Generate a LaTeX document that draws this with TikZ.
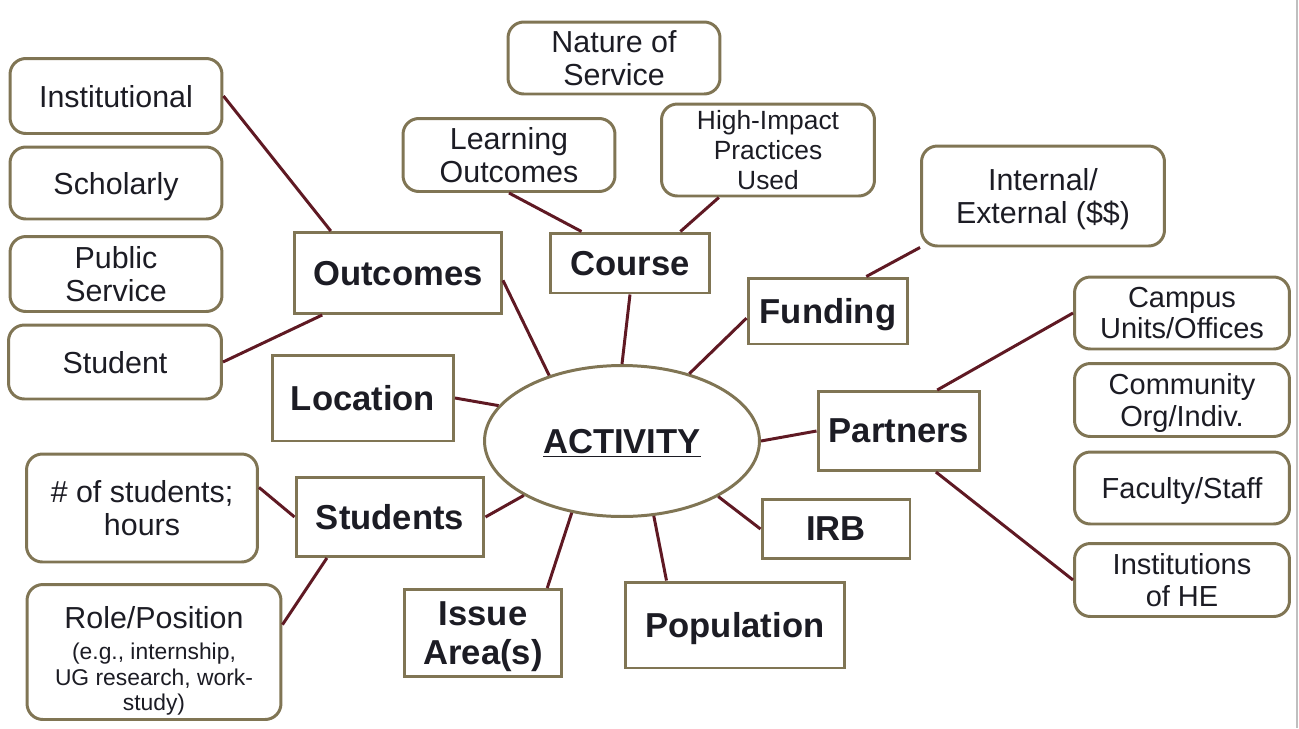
\documentclass[tikz,border=0pt]{standalone}
\usepackage{fontspec}
\setmainfont{Liberation Sans}
\usetikzlibrary{shapes.geometric}
\definecolor{boxline}{RGB}{128,117,84}
\definecolor{linkline}{RGB}{95,25,35}
\definecolor{ink}{RGB}{28,28,36}
\newcommand{\rolesmall}{\fontsize{13}{14.2}\selectfont}
\begin{document}
\begin{tikzpicture}[x=0.02cm,y=-0.02cm,
    leaf/.style={draw=boxline,line width=1.7pt,rounded corners=9pt,fill=white,
      align=center,inner sep=0pt,text depth=0pt,text=ink,
      font=\fontsize{17.3}{18.7}\selectfont},
    topic/.style={draw=boxline,line width=1.7pt,fill=white,align=center,
      inner sep=0pt,text depth=0pt,text=ink,font=\fontsize{19.7}{22}\selectfont\bfseries},
    link/.style={draw=linkline,line width=1.7pt}]
  \useasboundingbox (0,0) rectangle (1299,728);
  \draw[black!25,line width=0.8pt] (1297,0) -- (1297,728);
  % centre
  \node[draw=boxline,line width=1.7pt,ellipse,fill=white,minimum width=5.5cm,
    minimum height=3.02cm,inner sep=0pt,text depth=0pt,text=ink,
    font=\fontsize{19.7}{22}\selectfont\bfseries] (act) at (622,441) {\underline{ACTIVITY}};
  % topics
  \node[topic,minimum width=4.14cm,minimum height=1.62cm] (outc) at (398,273) {Outcomes};
  \node[topic,minimum width=3.18cm,minimum height=1.2cm] (course) at (630,263) {Course};
  \node[topic,minimum width=3.2cm,minimum height=1.32cm] (fund) at (828,311) {Funding};
  \node[topic,minimum width=3.62cm,minimum height=1.72cm] (loc) at (363,398) {Location};
  \node[topic,minimum width=3.24cm,minimum height=1.58cm] (part) at (899,431) {Partners};
  \node[topic,minimum width=2.96cm,minimum height=1.18cm] (irb) at (836,529) {IRB};
  \node[topic,minimum width=4.4cm,minimum height=1.72cm] (pop) at (735,625) {Population};
  \node[topic,minimum width=3.14cm,minimum height=1.74cm] (iss) at (483,633) {Issue\\Area(s)};
  \node[topic,minimum width=3.76cm,minimum height=1.58cm] (stus) at (390,517) {Students};
  % leaves
  \node[leaf,minimum width=4.24cm,minimum height=1.5cm] (inst) at (116,96) {Institutional};
  \node[leaf,minimum width=4.24cm,minimum height=1.44cm] (schol) at (116,183) {Scholarly};
  \node[leaf,minimum width=4.24cm,minimum height=1.5cm] (pub) at (116,274) {Public\\Service};
  \node[leaf,minimum width=4.26cm,minimum height=1.48cm] (stud) at (115,362) {Student};
  \node[leaf,minimum width=4.24cm,minimum height=1.44cm] (nat) at (614,58) {Nature of\\Service};
  \node[leaf,minimum width=4.24cm,minimum height=1.46cm] (lo) at (509,155) {Learning\\Outcomes};
  \node[leaf,minimum width=4.26cm,minimum height=1.84cm,
    font=\fontsize{15}{17}\selectfont] (hip) at (768,150) {High-Impact\\Practices\\Used};
  \node[leaf,minimum width=4.86cm,minimum height=2cm] (ext) at (1043,196) {Internal/\\External (\$\$)};
  \node[leaf,minimum width=4.3cm,minimum height=1.44cm,
    font=\fontsize{16.5}{18}\selectfont] (camp) at (1182,313) {Campus\\Units/Offices};
  \node[leaf,minimum width=4.3cm,minimum height=1.46cm,
    font=\fontsize{16.5}{18}\selectfont] (comm) at (1182,400) {Community\\Org/Indiv.};
  \node[leaf,minimum width=4.3cm,minimum height=1.44cm,
    font=\fontsize{16.5}{18}\selectfont] (fac) at (1182,488) {Faculty/Staff};
  \node[leaf,minimum width=4.3cm,minimum height=1.46cm,
    font=\fontsize{16.5}{18}\selectfont] (ihe) at (1182,580) {Institutions\\of HE};
  \node[leaf,minimum width=4.62cm,minimum height=2.16cm] (nos) at (142,508) {\# of students;\\hours};
  \node[leaf,minimum width=5.08cm,minimum height=2.7cm] (role) at (154,652)
    {\rule{0pt}{20pt}Role/Position\\[-1pt]\rolesmall (e.g., internship,\\[-4pt]\rolesmall UG research, work-\\[-4pt]\rolesmall study)};
  % links
  \draw[link] (inst.east) -- (outc.148);
  \draw[link] (stud.east) -- (outc.209);
  \draw[link] (outc.-4) -- (act.138);
  \draw[link] (lo.south) -- (course.147);
  \draw[link] (hip.224) -- (course.32);
  \draw[link] (course.south) -- (act.north);
  \draw[link] (fund.185) -- (act.45);
  \draw[link] (ext.south west) -- (fund.42);
  \draw[link] (loc.east) -- (act.164);
  \draw[link] (part.west) -- (act.east);
  \draw[link] (part.47) -- (camp.west);
  \draw[link] (part.312) -- (ihe.west);
  \draw[link] (irb.west) -- (act.330);
  \draw[link] (pop.147) -- (act.293);
  \draw[link] (iss.35) -- (act.235);
  \draw[link] (stus.east) -- (act.209);
  \draw[link] (nos.10) -- (stus.west);
  \draw[link] (role.12) -- (stus.213);
\end{tikzpicture}
\end{document}
